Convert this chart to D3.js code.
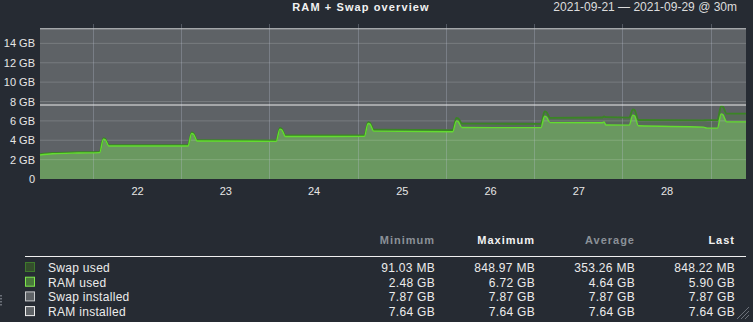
<!DOCTYPE html>
<html>
<head>
<meta charset="utf-8">
<script src="https://cdn.jsdelivr.net/npm/d3@7"></script>
<style>
  body { margin: 0; background: #262b33; }
  svg { display: block; font-family: "Liberation Sans", Arial, sans-serif; }
</style>
</head>
<body>
<div id="chart"></div>
<script>
// RAM + Swap overview, stacked area with a summary legend underneath

const times = [
  "2021-09-21 09:36", "2021-09-21 13:00", "2021-09-21 20:00",
  "2021-09-22 01:50", "2021-09-22 02:50", "2021-09-22 03:20", "2021-09-22 04:20",
  "2021-09-23 01:50", "2021-09-23 02:50", "2021-09-23 03:20", "2021-09-23 04:20",
  "2021-09-24 01:50", "2021-09-24 02:50", "2021-09-24 03:20", "2021-09-24 04:20",
  "2021-09-25 01:50", "2021-09-25 02:50", "2021-09-25 03:20", "2021-09-25 04:20",
  "2021-09-26 01:50", "2021-09-26 02:50", "2021-09-26 03:20", "2021-09-26 04:20",
  "2021-09-27 01:50", "2021-09-27 02:50", "2021-09-27 03:20", "2021-09-27 04:20",
  "2021-09-27 18:30", "2021-09-27 19:00", "2021-09-27 19:30",
  "2021-09-28 01:50", "2021-09-28 02:50", "2021-09-28 03:20", "2021-09-28 04:20",
  "2021-09-28 22:00", "2021-09-28 23:00",
  "2021-09-29 01:50", "2021-09-29 02:50", "2021-09-29 03:20", "2021-09-29 04:20", "2021-09-29 09:36"
];
// GB
const ramUsed = [
  2.47, 2.60, 2.68,
  2.72, 4.12, 4.05, 3.40,
  3.40, 4.70, 4.62, 3.92,
  3.88, 5.15, 5.08, 4.38,
  4.40, 5.73, 5.66, 4.94,
  4.87, 6.00, 5.92, 5.32,
  5.30, 6.49, 6.40, 5.82,
  5.80, 5.90, 5.58,
  5.56, 6.59, 6.50, 5.49,
  5.36, 5.25,
  5.25, 6.72, 6.62, 5.90, 5.90
];
const swapUsed = [
  0.09, 0.09, 0.09,
  0.09, 0.10, 0.10, 0.10,
  0.10, 0.10, 0.10, 0.10,
  0.10, 0.12, 0.12, 0.12,
  0.12, 0.15, 0.15, 0.15,
  0.17, 0.30, 0.35, 0.40,
  0.40, 0.50, 0.50, 0.50,
  0.55, 0.55, 0.80,
  0.78, 0.60, 0.60, 0.60,
  0.70, 0.82,
  0.82, 0.83, 0.84, 0.85, 0.85
];
const ramInstalled = 7.64;
const swapInstalled = 7.87;

const yTicks = [0, 2, 4, 6, 8, 10, 12, 14];
const yTickLabels = ["0", "2 GB", "4 GB", "6 GB", "8 GB", "10 GB", "12 GB", "14 GB"];
const dayLabels = ["22", "23", "24", "25", "26", "27", "28"];

const legendNames = ["Swap used", "RAM used", "Swap installed", "RAM installed"];
const legendHeaders = ["Minimum", "Maximum", "Average", "Last"];
const legendMin = ["91.03 MB", "2.48 GB", "7.87 GB", "7.64 GB"];
const legendMax = ["848.97 MB", "6.72 GB", "7.87 GB", "7.64 GB"];
const legendAvg = ["353.26 MB", "4.64 GB", "7.87 GB", "7.64 GB"];
const legendLast = ["848.22 MB", "5.90 GB", "7.87 GB", "7.64 GB"];

const W = 753, H = 322;
const plot = { left: 40, right: 746, top: 24, bottom: 179 };

const parse = d3.utcParse("%Y-%m-%d %H:%M");
const data = times.map((t, i) => ({ t: parse(t), ram: ramUsed[i], swap: swapUsed[i] }));

const svg = d3.select("#chart").append("svg")
  .attr("width", W)
  .attr("height", H);

const x = d3.scaleUtc()
  .domain([parse("2021-09-21 09:36"), parse("2021-09-29 09:36")])
  .range([plot.left, plot.right]);
const y = d3.scaleLinear()
  .domain([0, 16])
  .range([plot.bottom, plot.top]);

// installed memory, grey stacked bands
svg.append("rect")
  .attr("x", plot.left).attr("width", plot.right - plot.left)
  .attr("y", y(ramInstalled + swapInstalled))
  .attr("height", y(ramInstalled) - y(ramInstalled + swapInstalled))
  .attr("fill", "#5e6266");
svg.append("rect")
  .attr("x", plot.left).attr("width", plot.right - plot.left)
  .attr("y", y(ramInstalled))
  .attr("height", y(0) - y(ramInstalled))
  .attr("fill", "#5e6266");

// used memory
const curve = d3.curveMonotoneX;
const ramArea = d3.area().curve(curve)
  .x(d => x(d.t)).y0(y(0)).y1(d => y(d.ram));
const swapArea = d3.area().curve(curve)
  .x(d => x(d.t)).y0(d => y(d.ram)).y1(d => y(d.ram + d.swap));

svg.append("path").datum(data)
  .attr("d", ramArea)
  .attr("fill", "#6a9860");
svg.append("path").datum(data)
  .attr("d", swapArea)
  .attr("fill", "#4f7a42")
  .attr("fill-opacity", 0.3);

// grid
const grid = svg.append("g");
grid.selectAll(".hg").data(yTicks.slice(1))
  .join("line")
  .attr("x1", plot.left).attr("x2", plot.right)
  .attr("y1", d => y(d)).attr("y2", d => y(d))
  .attr("stroke", "#ffffff").attr("stroke-opacity", 0.16);

const days = d3.utcDay.range(x.domain()[0], x.domain()[1]).filter(d => d > x.domain()[0]);
grid.selectAll(".vg").data(days)
  .join("line")
  .attr("x1", d => Math.round(x(d)) + 0.5).attr("x2", d => Math.round(x(d)) + 0.5)
  .attr("y1", plot.top).attr("y2", plot.bottom)
  .attr("stroke", "#b8bfd0").attr("stroke-opacity", 0.3);

// series lines
svg.append("path").datum(data)
  .attr("d", d3.line().curve(curve).x(d => x(d.t)).y(d => y(d.ram + d.swap)))
  .attr("fill", "none").attr("stroke", "#3a8524").attr("stroke-width", 1.8);
svg.append("path").datum(data)
  .attr("d", d3.line().curve(curve).x(d => x(d.t)).y(d => y(d.ram)))
  .attr("fill", "none").attr("stroke", "#63dc2f").attr("stroke-width", 1.4);

svg.append("line")
  .attr("x1", plot.left).attr("x2", plot.right)
  .attr("y1", y(ramInstalled + swapInstalled)).attr("y2", y(ramInstalled + swapInstalled))
  .attr("stroke", "#c9cbcd").attr("stroke-width", 1.2);
svg.append("line")
  .attr("x1", plot.left).attr("x2", plot.right)
  .attr("y1", y(ramInstalled)).attr("y2", y(ramInstalled))
  .attr("stroke", "#eeeeee").attr("stroke-width", 1.2);

// axes
const yAxis = d3.axisLeft(y)
  .tickValues(yTicks)
  .tickFormat((d, i) => yTickLabels[i])
  .tickSize(0).tickPadding(5);
svg.append("g")
  .attr("transform", `translate(${plot.left},0)`)
  .call(yAxis)
  .call(g => g.select(".domain").remove())
  .selectAll("text")
  .attr("fill", "#e6e6e6")
  .style("font-size", "11px")
  .style("font-family", "Liberation Sans, Arial, sans-serif");

const noons = dayLabels.map(d => parse(`2021-09-${d} 12:00`));
const xAxis = d3.axisBottom(x)
  .tickValues(noons)
  .tickFormat((d, i) => dayLabels[i])
  .tickSize(0).tickPadding(8);
svg.append("g")
  .attr("transform", `translate(0,${plot.bottom})`)
  .call(xAxis)
  .call(g => g.select(".domain").remove())
  .selectAll("text")
  .attr("fill", "#e6e6e6")
  .style("font-size", "11px")
  .style("font-family", "Liberation Sans, Arial, sans-serif");

// header
svg.append("text")
  .attr("x", 361).attr("y", 11)
  .attr("text-anchor", "middle")
  .attr("fill", "#f2f2f2")
  .style("font-size", "11px").style("font-weight", "bold").style("letter-spacing", "1.1px")
  .text("RAM + Swap overview");
svg.append("text")
  .attr("x", 737).attr("y", 11)
  .attr("text-anchor", "end")
  .attr("fill", "#dcdcdc")
  .style("font-size", "12px")
  .text("2021-09-21 \u2014 2021-09-29 @ 30m");

// legend table
const colRight = [435, 535, 635, 735];
const headerColors = ["#8b9198", "#f2f2f2", "#8b9198", "#f2f2f2"];
svg.selectAll(".lh").data(legendHeaders)
  .join("text")
  .attr("x", (d, i) => colRight[i]).attr("y", 244)
  .attr("text-anchor", "end")
  .attr("fill", (d, i) => headerColors[i])
  .style("font-size", "11px").style("font-weight", "bold").style("letter-spacing", "1px")
  .text(d => d);

svg.append("line")
  .attr("x1", 25).attr("x2", 746)
  .attr("y1", 256.5).attr("y2", 256.5)
  .attr("stroke", "#f0f0f0");

const swatchFill = ["#344e2c", "#49793b", "#5e6266", "#5e6266"];
const swatchStroke = ["#3f7a2c", "#7fe84c", "#c9cbcd", "#eeeeee"];
const rowY = i => 272 + i * 14.7;
const rows = svg.selectAll(".row").data(legendNames)
  .join("g");
rows.append("rect")
  .attr("x", 25.5).attr("y", (d, i) => rowY(i) - 9.5)
  .attr("width", 9).attr("height", 9)
  .attr("fill", (d, i) => swatchFill[i])
  .attr("stroke", (d, i) => swatchStroke[i]);
rows.append("text")
  .attr("x", 48).attr("y", (d, i) => rowY(i))
  .attr("fill", "#ececec")
  .style("font-size", "12px").style("letter-spacing", "0.3px")
  .text(d => d);

const cols = [legendMin, legendMax, legendAvg, legendLast];
cols.forEach((col, c) => {
  svg.selectAll(".c" + c).data(col)
    .join("text")
    .attr("x", colRight[c]).attr("y", (d, i) => rowY(i))
    .attr("text-anchor", "end")
    .attr("fill", "#ececec")
    .style("font-size", "12px").style("letter-spacing", "0.3px")
    .text(d => d);
});

// resize grip and drag dots
const grip = svg.append("g").attr("stroke", "#6b7079");
[4, 8, 12].forEach(k => {
  grip.append("line")
    .attr("x1", 749 - k).attr("y1", 319).attr("x2", 749).attr("y2", 319 - k);
});
svg.selectAll(".dot").data([0, 1, 2, 3])
  .join("rect")
  .attr("x", 0).attr("y", d => 295 + d * 3)
  .attr("width", 2).attr("height", 1.5)
  .attr("fill", "#6b7079");
</script>
</body>
</html>
